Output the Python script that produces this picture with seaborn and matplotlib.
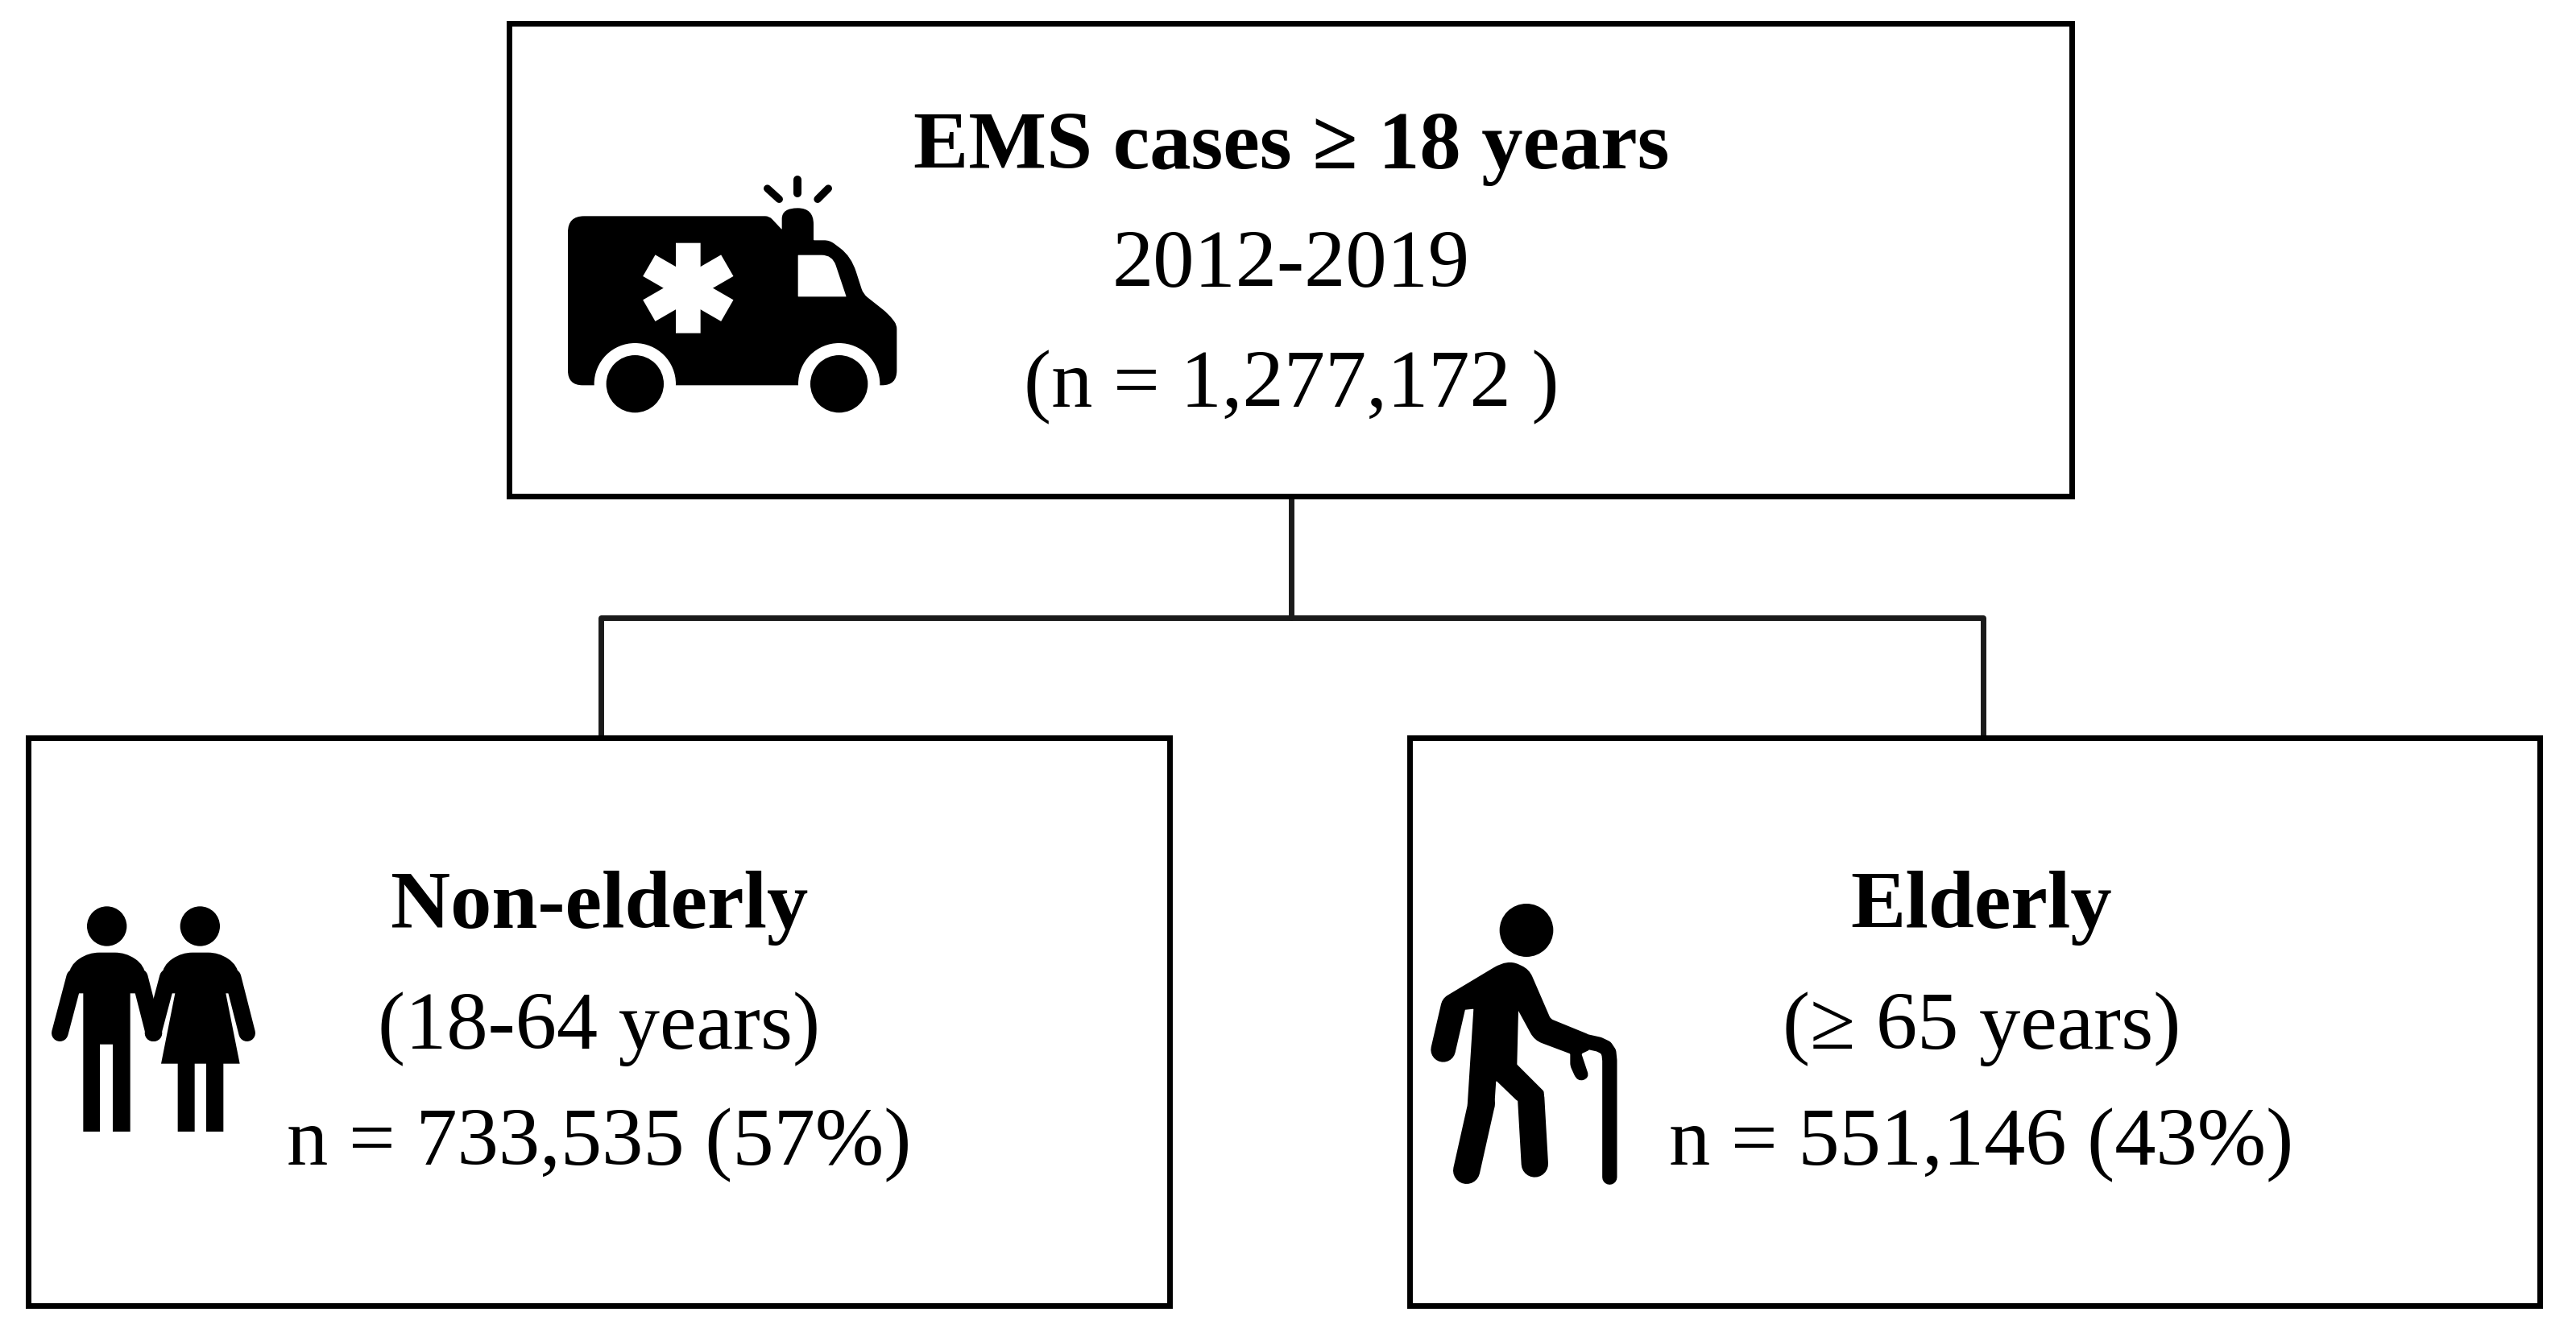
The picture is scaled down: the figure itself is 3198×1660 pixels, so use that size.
import numpy as np
import pandas as pd
import matplotlib
matplotlib.use("Agg")
import matplotlib.pyplot as plt
import seaborn as sns
from matplotlib.path import Path
from matplotlib.patches import PathPatch, Circle, Ellipse, Rectangle

# flow chart content
top_lines = ["EMS cases \u2265 18 years", "2012-2019", "(n = 1,277,172 )"]
left_lines = ["Non-elderly", "(18-64 years)", "n = 733,535 (57%)"]
right_lines = ["Elderly", "(\u2265 65 years)", "n = 551,146 (43%)"]

# boxes in image pixels: x0, y0, x1, y1
top_box = (632, 29, 2572, 616)
left_box = (35, 916, 1452, 1621)
right_box = (1750, 916, 3153, 1621)

# connector segments
conn_seg = [0, 0, 1, 1, 1, 1]
conn_x = [1603, 1603, 746, 746, 2462, 2462]
conn_y = [616, 767, 916, 767, 767, 916]

TEXT_SIZE = 36.9
LW = 2.5

sns.set_theme(style="white")
plt.rcParams["font.family"] = ["Liberation Serif", "DejaVu Serif"]

fig, ax = plt.subplots(figsize=(15.99, 8.30), dpi=200)
fig.subplots_adjust(0, 0, 1, 1)
ax.set_xlim(0, 3198)
ax.set_ylim(1660, 0)
ax.axis("off")


def rounded(pts, radii):
    # polygon with rounded corners, each corner has its own radius
    pts = np.array(pts, dtype=float)
    verts, codes = [], []
    n = len(pts)
    for i in range(n):
        p, a, b = pts[i], pts[i - 1], pts[(i + 1) % n]
        r = radii[i]
        da = (a - p) / np.linalg.norm(a - p)
        db = (b - p) / np.linalg.norm(b - p)
        r_a = min(r, np.linalg.norm(a - p) / 2)
        r_b = min(r, np.linalg.norm(b - p) / 2)
        verts += [p + da * r_a, p, p + db * r_b]
        codes += [Path.LINETO if i else Path.MOVETO, Path.CURVE3, Path.CURVE3]
    verts.append(verts[0])
    codes.append(Path.CLOSEPOLY)
    return Path(verts, codes)


def shape(pts, radii, ox, oy, color="black"):
    # pts are given on a 3x grid around the icon origin
    p = np.array(pts, dtype=float) / 3 + [ox, oy]
    r = np.array(radii, dtype=float) / 3
    ax.add_patch(PathPatch(rounded(p, r), fc=color, ec="none", zorder=3))


def disc(cx, cy, r, ox, oy, color="black"):
    ax.add_patch(Circle((cx / 3 + ox, cy / 3 + oy), r / 3, fc=color, ec="none", zorder=3))


def stroke(xs, ys, w, ox, oy):
    ax.plot(np.array(xs) / 3 + ox, np.array(ys) / 3 + oy, color="black",
            lw=w / 3 * 72 / 200, solid_capstyle="round", solid_joinstyle="round", zorder=3)


def ambulance(ox, oy):
    body = [(135, 235), (885, 235), (932, 285), (932, 205), (1050, 205), (1050, 325),
            (1110, 325), (1190, 385), (1235, 525), (1330, 600), (1360, 640), (1360, 865), (135, 865)]
    shape(body, [60, 15, 3, 62, 62, 3, 20, 60, 20, 30, 15, 55, 55], ox, oy)
    for cx in (385, 1145):
        disc(cx, 860, 152, ox, oy, "white")
        disc(cx, 860, 107, ox, oy)
    shape([(992, 380), (1120, 380), (1172, 535), (992, 535)], [2, 40, 2, 2], ox, oy, "white")
    # star of life
    for ang in (0, 60, 120):
        t = np.deg2rad(ang)
        u = np.array([np.sin(t), np.cos(t)]) * 168
        v = np.array([np.cos(t), -np.sin(t)]) * 46
        c = np.array([583, 503])
        arm = [c + u + v, c + u - v, c - u - v, c - u + v]
        shape(arm, [0, 0, 0, 0], ox, oy, "white")
    stroke([878, 922], [132, 172], 28, ox, oy)
    stroke([991, 991], [100, 150], 30, ox, oy)
    stroke([1105, 1065], [132, 172], 28, ox, oy)


def couple(ox, oy):
    for dx in (0, 347):
        disc(308 + dx, 180, 74, ox, oy)
        shape([(158, 430), (170, 325), (240, 278), (378, 278), (448, 325), (460, 430)],
              [0, 40, 40, 40, 40, 0], ox + dx / 3, oy)
        stroke([188 + dx, 133 + dx], [370, 578], 62, ox, oy)
        stroke([430 + dx, 483 + dx], [370, 578], 62, ox, oy)
    # man
    shape([(220, 400), (395, 400), (395, 945), (330, 945), (330, 620), (282, 620), (282, 945), (220, 945)],
          [0] * 8, ox, oy)
    # woman
    shape([(568, 400), (745, 400), (803, 692), (510, 692)], [0] * 4, ox, oy)
    shape([(572, 680), (635, 680), (635, 945), (572, 945)], [0] * 4, ox, oy)
    shape([(678, 680), (742, 680), (742, 945), (678, 945)], [0] * 4, ox, oy)


def elderly(ox, oy):
    ax.add_patch(Ellipse((435 / 3 + ox, 195 / 3 + oy), 200 / 3, 198 / 3, fc="black", ec="none", zorder=3))
    torso = [(365, 303), (445, 340), (525, 525), (672, 585), (672, 640), (640, 655), (655, 700), (670, 745),
             (625, 760), (598, 700), (598, 655), (465, 605), (405, 495), (400, 695), (500, 795), (500, 860),
             (400, 830), (322, 755), (315, 860), (215, 850), (238, 488), (120, 500), (120, 450)]
    radii = [60, 30, 10, 15, 10, 5, 5, 25, 30, 10, 3, 30, 2, 2, 5, 0, 5, 5, 0, 5, 2, 0, 25]
    shape(torso, radii, ox, oy)
    # arm and legs have round ends
    stroke([162, 125], [480, 640], 92, ox, oy)
    stroke([268, 212], [840, 1090], 100, ox, oy)
    stroke([452, 466], [820, 1065], 100, ox, oy)
    # walking stick
    stroke([745, 745, 742, 730, 705, 660], [1115, 680, 650, 632, 620, 610], 55, ox, oy)


# boxes
for x0, y0, x1, y1 in (top_box, left_box, right_box):
    ax.add_patch(Rectangle((x0, y0), x1 - x0, y1 - y0, fc="white", ec="black", lw=LW, zorder=2))

# connectors
conn = pd.DataFrame({"x": conn_x, "y": conn_y, "seg": conn_seg})
sns.lineplot(data=conn, x="x", y="y", units="seg", estimator=None, sort=False,
             color="#1a1a1a", lw=LW, ax=ax, legend=False, zorder=1)
ax.set_xlim(0, 3198)
ax.set_ylim(1660, 0)
ax.axis("off")

# text
for lines, cx, ys in ((top_lines, 1603, (209, 355, 505)),
                      (left_lines, 744, (1152, 1302, 1446)),
                      (right_lines, 2460, (1152, 1302, 1446))):
    for i, (s, y) in enumerate(zip(lines, ys)):
        ax.text(cx, y, s, ha="center", va="baseline", fontsize=TEXT_SIZE, color="black",
                fontweight="bold" if i == 0 else "normal", zorder=4)

ambulance(660, 190)
couple(30, 1090)
elderly(1750, 1090)

fig.savefig("out.png", dpi=200, facecolor="white")
